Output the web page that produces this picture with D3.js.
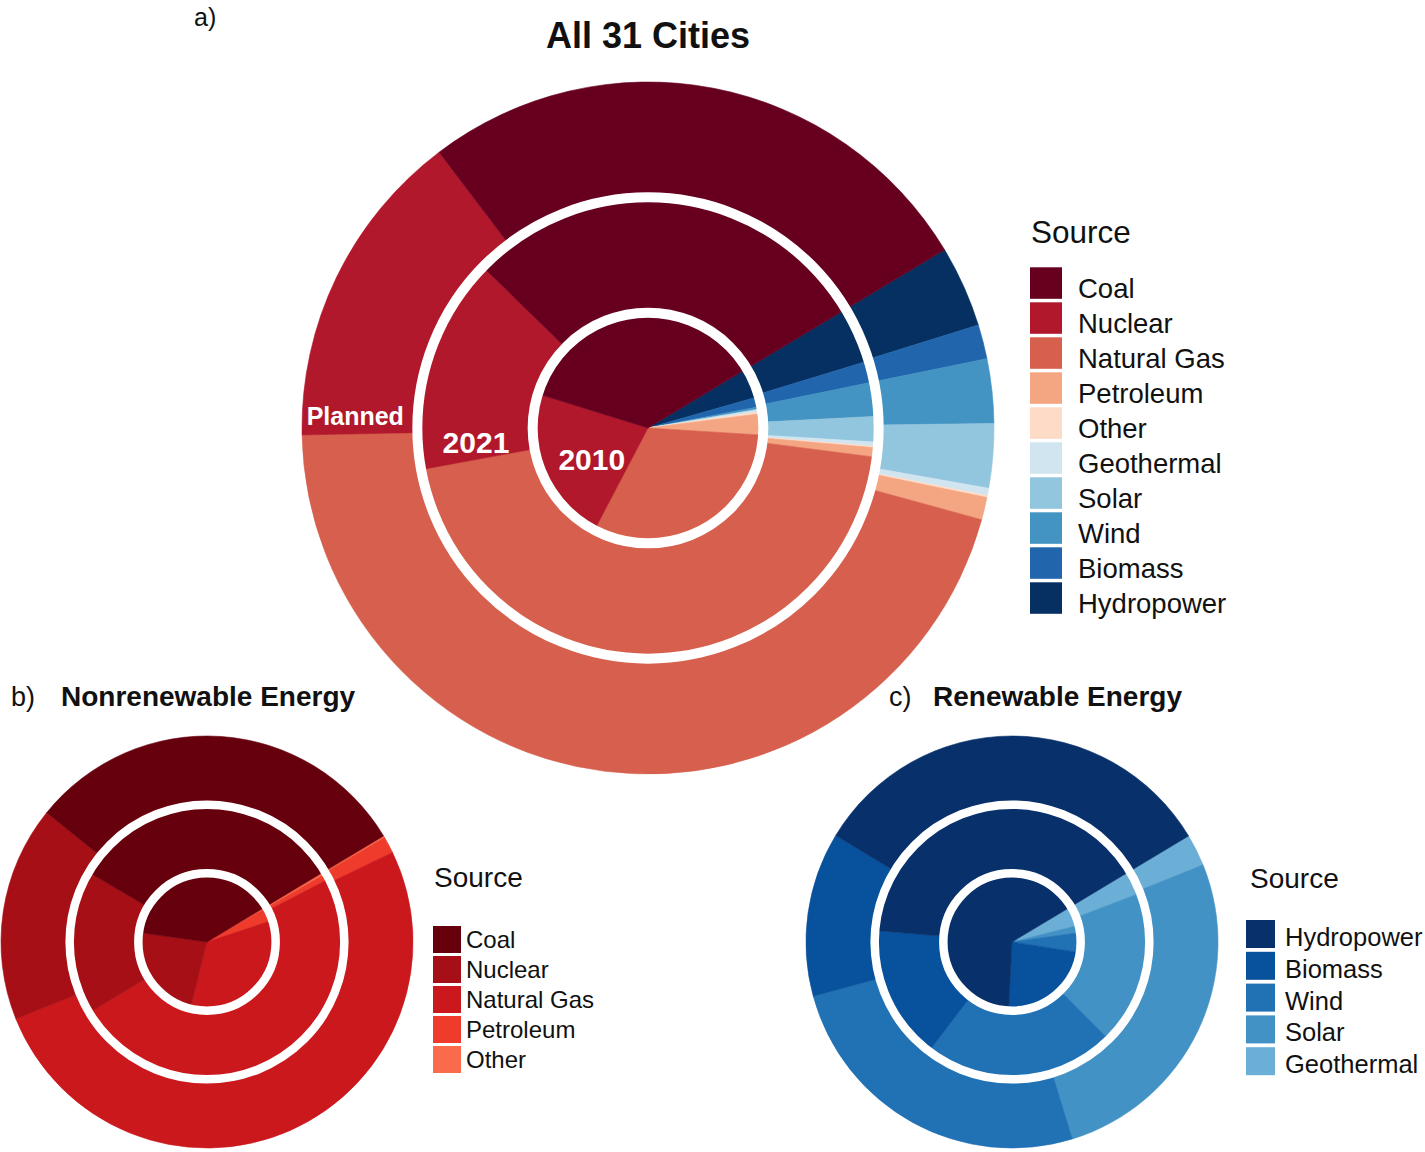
<!DOCTYPE html>
<html>
<head>
<meta charset="utf-8">
<script src="https://cdn.jsdelivr.net/npm/d3@7"></script>
<style>
  html, body { margin: 0; padding: 0; background: #fff; }
  svg { display: block; font-family: "Liberation Sans", Arial, sans-serif; }
</style>
</head>
<body>
<svg id="chart" width="1425" height="1152"></svg>
<script>
// ---------------- DATA ----------------
const rings = ["2010", "2021", "Planned"];

// Panel a: all sources (legend order)
const mainSources = ["Coal", "Nuclear", "Natural Gas", "Petroleum", "Other",
                     "Geothermal", "Solar", "Wind", "Biomass", "Hydropower"];
const mainColors = ["#67001f", "#b2182b", "#d6604d", "#f4a582", "#fddbc7",
                    "#d1e5f0", "#92c5de", "#4393c3", "#2166ac", "#053061"];
const main2010    = [36.6, 22.1, 31.7, 3.0, 0.3, 0.3, 0.1, 0.3, 1.4, 4.2];
const main2021    = [29.1, 15.2, 45.1, 0.65, 0.1, 0.3, 1.8, 2.4, 1.5, 3.9];
const mainPlanned = [26.7, 15.0, 45.4, 1.05, 0.1, 0.33, 3.0, 3.0, 1.6, 3.8];

// Panel b: nonrenewable
const nonrenSources = ["Coal", "Nuclear", "Natural Gas", "Petroleum", "Other"];
const nonrenColors  = ["#67000d", "#a50f15", "#cb181d", "#ef3b2c", "#fb6a4a"];
const nonren2010    = [39.2, 23.3, 34.0, 3.2, 0.3];
const nonren2021    = [32.9, 17.1, 49.0, 0.7, 0.3];
const nonrenPlanned = [30.6, 16.9, 51.1, 1.3, 0.15];

// Panel c: renewable
const renSources = ["Hydropower", "Biomass", "Wind", "Solar", "Geothermal"];
const renColors  = ["#08306b", "#08519c", "#2171b5", "#4292c6", "#6baed6"];
const ren2010    = [65.6, 23.3, 4.7, 1.7, 4.7];
const ren2021    = [40.1, 16.0, 22.8, 18.4, 2.8];
const renPlanned = [32.75, 12.9, 25.5, 26.4, 2.5];

// ---------------- DRAWING ----------------
const svg = d3.select("#chart");
const START = 59 * Math.PI / 180;

function donut(g, sources, colors, ringValues, R, gapWidth) {
  const color = d3.scaleOrdinal().domain(sources).range(colors);
  const rScale = d3.scaleLinear().domain([0.5, rings.length + 0.5]).range([0, R]);
  const pie = d3.pie().sort(null).value(d => d.value)
      .startAngle(START).endAngle(START + 2 * Math.PI);
  ringValues.forEach((vals, i) => {
    // clockwise order from the start angle is the reverse of the legend order
    const data = sources.map((s, j) => ({ source: s, value: vals[j] })).reverse();
    const arc = d3.arc().innerRadius(rScale(i + 0.5)).outerRadius(rScale(i + 1.5));
    g.append("g").attr("class", "ring-" + rings[i])
      .selectAll("path").data(pie(data)).join("path")
      .attr("d", arc)
      .attr("fill", d => color(d.data.source))
      .attr("stroke", d => color(d.data.source))
      .attr("stroke-width", 0.6);
  });
  // white separators between rings
  for (let k = 1; k < rings.length; k++) {
    g.append("circle").attr("r", rScale(k + 0.5))
      .attr("fill", "none").attr("stroke", "#fff").attr("stroke-width", gapWidth);
  }
  return rScale;
}

function legend(g, sources, colors, opt) {
  g.append("text").attr("x", 0).attr("y", 0)
    .attr("font-size", opt.titleSize).attr("fill", "#111").text("Source");
  const items = g.selectAll("g.item").data(sources).join("g")
    .attr("class", "item")
    .attr("transform", (d, i) => `translate(0, ${opt.keyTop + i * opt.step})`);
  items.append("rect").attr("x", opt.keyX).attr("y", 0)
    .attr("width", opt.keyW).attr("height", opt.keyH)
    .attr("fill", (d, i) => colors[i]);
  items.append("text").attr("x", opt.labelX).attr("y", opt.keyH / 2 + opt.baseOff)
    .attr("font-size", opt.labelSize).attr("fill", "#111")
    .text(d => d);
}

// ---- Panel a ----
const gA = svg.append("g").attr("transform", "translate(648,428)");
const rA = donut(gA, mainSources, mainColors, [main2010, main2021, mainPlanned], 346, 10);

// ring labels
const ringLabelPos = [
  { angle: 241, r: 64.3, size: 30 },
  { angle: 265.4, r: 172.6, size: 30 },
  { angle: 272.3, r: 293, size: 25 }
];
rings.forEach((lab, i) => {
  const p = ringLabelPos[i];
  const a = p.angle * Math.PI / 180;
  gA.append("text")
    .attr("x", p.r * Math.sin(a)).attr("y", -p.r * Math.cos(a))
    .attr("text-anchor", "middle").attr("dy", "0.36em")
    .attr("font-size", p.size).attr("font-weight", "bold").attr("fill", "#fff")
    .text(lab);
});

svg.append("text").attr("x", 648).attr("y", 48).attr("text-anchor", "middle")
  .attr("font-size", 36).attr("font-weight", "bold").attr("fill", "#111")
  .text("All 31 Cities");
svg.append("text").attr("x", 194).attr("y", 26)
  .attr("font-size", 25).attr("fill", "#111").text("a)");

legend(svg.append("g").attr("transform", "translate(1031,243)"), mainSources, mainColors,
  { titleSize: 31.5, keyTop: 24.3, step: 35, keyX: -1, keyW: 32, keyH: 31.5, labelX: 47,
    labelSize: 27.5, baseOff: 14.5 });

// ---- Panel b ----
const gB = svg.append("g").attr("transform", "translate(207,942)");
donut(gB, nonrenSources, nonrenColors, [nonren2010, nonren2021, nonrenPlanned], 206, 8.5);
svg.append("text").attr("x", 11).attr("y", 706)
  .attr("font-size", 27).attr("fill", "#111").text("b)");
svg.append("text").attr("x", 61).attr("y", 706)
  .attr("font-size", 28).attr("font-weight", "bold").attr("fill", "#111")
  .text("Nonrenewable Energy");
legend(svg.append("g").attr("transform", "translate(434,887)"), nonrenSources, nonrenColors,
  { titleSize: 28, keyTop: 39, step: 30, keyX: -1, keyW: 28, keyH: 27, labelX: 32,
    labelSize: 24, baseOff: 8 });

// ---- Panel c ----
const gC = svg.append("g").attr("transform", "translate(1012,942)");
donut(gC, renSources, renColors, [ren2010, ren2021, renPlanned], 206, 8.5);
svg.append("text").attr("x", 889).attr("y", 706)
  .attr("font-size", 27).attr("fill", "#111").text("c)");
svg.append("text").attr("x", 933).attr("y", 706)
  .attr("font-size", 28).attr("font-weight", "bold").attr("fill", "#111")
  .text("Renewable Energy");
legend(svg.append("g").attr("transform", "translate(1250,888)"), renSources, renColors,
  { titleSize: 28, keyTop: 32, step: 31.8, keyX: -4, keyW: 29, keyH: 28, labelX: 35,
    labelSize: 25.5, baseOff: 12 });
</script>
</body>
</html>
